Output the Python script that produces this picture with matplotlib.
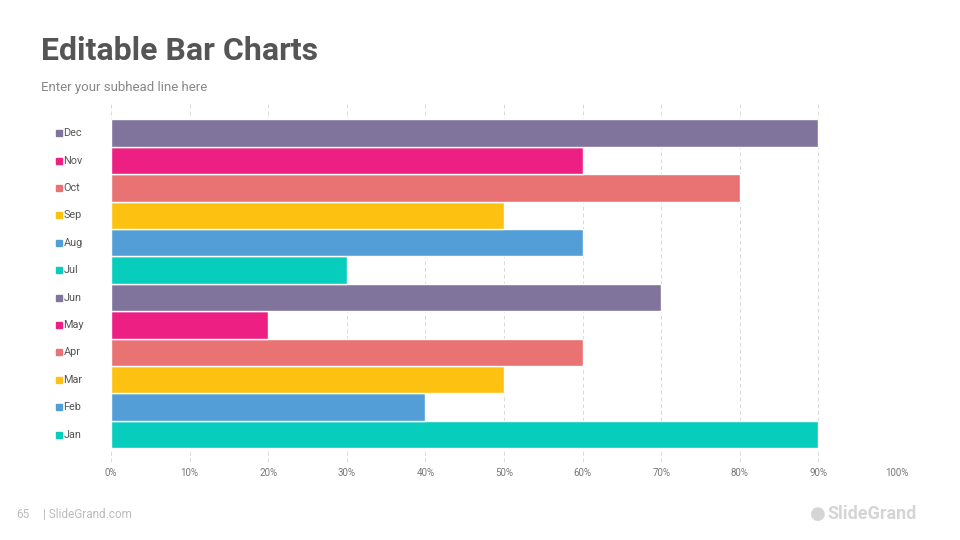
import matplotlib
matplotlib.use("Agg")
import matplotlib.pyplot as plt
import matplotlib.transforms as mtransforms

months = ["Jan", "Feb", "Mar", "Apr", "May", "Jun", "Jul", "Aug", "Sep", "Oct", "Nov", "Dec"]
values = [90, 40, 50, 60, 20, 70, 30, 60, 50, 80, 60, 90]
colors = ["#07CDBC", "#539ED6", "#FCC111", "#E97272", "#EE1F83", "#80739C",
          "#07CDBC", "#539ED6", "#FCC111", "#E97272", "#EE1F83", "#80739C"]
xticks = [0, 10, 20, 30, 40, 50, 60, 70, 80, 90, 100]
xtick_labels = [f"{t}%" for t in xticks]

plt.rcParams['font.family'] = ['Roboto', 'DejaVu Sans']

fig = plt.figure(figsize=(9.6, 5.4), dpi=100)
W, H = 960, 540
ax = fig.add_axes([111 / W, 1 - 462 / H, (897 - 111) / W, (462 - 103) / H])

ypos = list(range(len(months)))
ax.barh(ypos, values, height=1.0, color=colors, edgecolor="white", linewidth=1.0, zorder=3)

ax.set_xlim(0, 100)
ax.set_ylim(-1.0, 12.1)
ax.set_xticks(xticks)
ax.set_xticklabels(xtick_labels, fontsize=7, color="#777777")
ax.set_yticks([])
ax.tick_params(axis="x", length=0, pad=4)
for s in ax.spines.values():
    s.set_visible(False)
ax.grid(axis="x", color="#d9d9d9", linestyle=(0, (4, 3)), linewidth=0.7, zorder=0)

# legend-like labels aligned to bars
trans = mtransforms.blended_transform_factory(fig.transFigure, ax.transData)
for y, m, c in zip(ypos, months, colors):
    ax.plot([59 / W], [y], marker="s", markersize=4, color=c, transform=trans,
            clip_on=False, linestyle="none")
    ax.text(63.5 / W, y, m, transform=trans, fontsize=7.8, color="#555555",
            va="center", ha="left")

fig.text(41 / W, 1 - 51 / H, "Editable Bar Charts", fontsize=23, fontweight="bold",
         color="#555555", va="center", ha="left")
fig.text(41 / W, 1 - 87 / H, "Enter your subhead line here", fontsize=9.5,
         color="#888888", va="center", ha="left")
fig.text(16 / W, 1 - 514 / H, "65", fontsize=8.5, color="#bbbbbb", va="center", ha="left")
fig.text(43 / W, 1 - 514 / H, "| SlideGrand.com", fontsize=8.5, color="#bbbbbb",
         va="center", ha="left")
fig.text(917 / W, 1 - 514 / H, "SlideGrand", fontsize=13, fontweight="bold",
         color="#d5d5d5", va="center", ha="right")
fig.text(818 / W, 1 - 514 / H, "\u25CF", fontsize=13, color="#d5d5d5",
         va="center", ha="center")

fig.savefig("out.png", dpi=100, facecolor="white")
